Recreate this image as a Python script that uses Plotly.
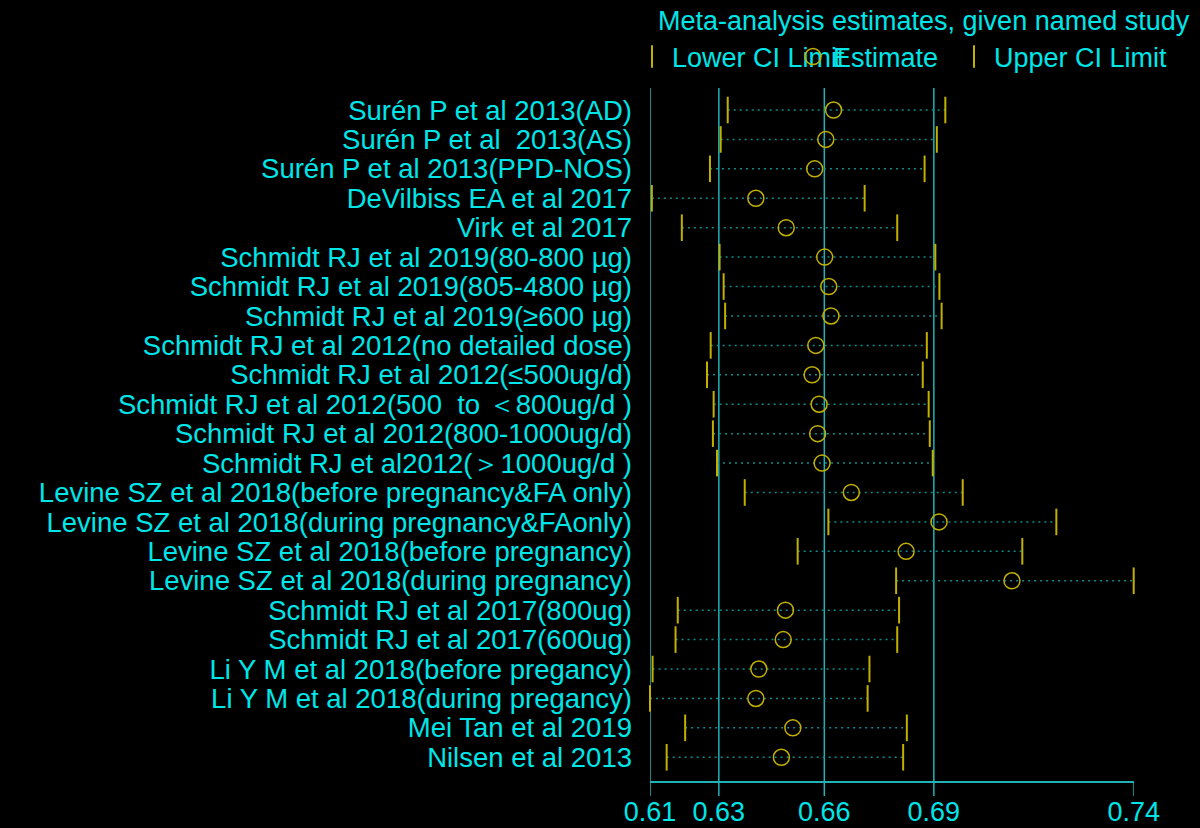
import plotly.graph_objects as go

# Study labels, top to bottom
STUDIES = [
    "Surén P et al 2013(AD)",
    "Surén P et al  2013(AS)",
    "Surén P et al 2013(PPD-NOS)",
    "DeVilbiss EA et al 2017",
    "Virk et al 2017",
    "Schmidt RJ et al 2019(80-800 µg)",
    "Schmidt RJ et al 2019(805-4800 µg)",
    "Schmidt RJ et al 2019(≥600 µg)",
    "Schmidt RJ et al 2012(no detailed dose)",
    "Schmidt RJ et al 2012(≤500ug/d)",
    "Schmidt RJ et al 2012(500  to ＜800ug/d )",
    "Schmidt RJ et al 2012(800-1000ug/d)",
    "Schmidt RJ et al2012(＞1000ug/d )",
    "Levine SZ et al 2018(before pregnancy&FA only)",
    "Levine SZ et al 2018(during pregnancy&FAonly)",
    "Levine SZ et al 2018(before pregnancy)",
    "Levine SZ et al 2018(during pregnancy)",
    "Schmidt RJ et al 2017(800ug)",
    "Schmidt RJ et al 2017(600ug)",
    "Li Y M et al 2018(before pregancy)",
    "Li Y M et al 2018(during pregancy)",
    "Mei Tan et al 2019",
    "Nilsen et al 2013",
]

# Estimates with the named study omitted
LOWER = [0.6310, 0.6291, 0.6262, 0.6105, 0.6186, 0.6288, 0.6299, 0.6303,
         0.6264, 0.6254, 0.6272, 0.6270, 0.6281, 0.6356, 0.6582, 0.6499,
         0.6765, 0.6175, 0.6169, 0.6107, 0.6100, 0.6195, 0.6145]
ESTIMATE = [0.6596, 0.6575, 0.6545, 0.6386, 0.6468, 0.6572, 0.6583, 0.6589,
            0.6548, 0.6538, 0.6557, 0.6553, 0.6565, 0.6644, 0.6881, 0.6792,
            0.7078, 0.6466, 0.6460, 0.6394, 0.6386, 0.6486, 0.6455]
UPPER = [0.6898, 0.6875, 0.6842, 0.6680, 0.6768, 0.6871, 0.6882, 0.6888,
         0.6848, 0.6837, 0.6853, 0.6856, 0.6864, 0.6945, 0.7198, 0.7106,
         0.7407, 0.6773, 0.6768, 0.6693, 0.6688, 0.6794, 0.6784]

# Overall pooled estimate (lower CI, estimate, upper CI)
OVERALL = [0.6286, 0.6571, 0.6867]

TICK_VALS = [0.6100, 0.6286, 0.6571, 0.6867, 0.7407]
TICK_TEXT = ["0.61", "0.63", "0.66", "0.69", "0.74"]

CYAN_TEXT = "#00e5e8"
CYAN_LINE = "#1fb3b8"
DOT_COLOR = "#0e8c8c"
YELLOW = "#c2b000"
FONT = "Liberation Sans, Arial, sans-serif"

fig = go.Figure()

# dotted lines between the CI limits
xs, ys = [], []
for s, lo, hi in zip(STUDIES, LOWER, UPPER):
    xs += [lo, hi, None]
    ys += [s, s, None]
fig.add_trace(go.Scatter(x=xs, y=ys, mode="lines", showlegend=False,
                         line=dict(color=DOT_COLOR, width=1.5, dash="2px,4px"),
                         hoverinfo="skip", cliponaxis=False))

fig.add_trace(go.Scatter(
    x=LOWER, y=STUDIES, mode="markers", name="Lower CI Limit",
    marker=dict(symbol="line-ns", size=19, line=dict(color=YELLOW, width=2)),
    cliponaxis=False))
fig.add_trace(go.Scatter(
    x=ESTIMATE, y=STUDIES, mode="markers", name="Estimate",
    marker=dict(symbol="circle-open", size=16, color=YELLOW, line=dict(width=1.5)),
    cliponaxis=False))
fig.add_trace(go.Scatter(
    x=UPPER, y=STUDIES, mode="markers", name="Upper CI Limit", legend="legend2",
    marker=dict(symbol="line-ns", size=19, line=dict(color=YELLOW, width=2)),
    cliponaxis=False))

# vertical lines: minimum tick and the overall estimate / CI, plus the last tick
bottom = (828 - 796) / 828
for xv in [TICK_VALS[0]] + OVERALL:
    fig.add_shape(type="line", xref="x", yref="paper", x0=xv, x1=xv,
                  y0=bottom, y1=(828 - 88) / 828,
                  line=dict(color=CYAN_LINE, width=1.5), layer="below")
fig.add_shape(type="line", xref="x", yref="paper", x0=TICK_VALS[-1], x1=TICK_VALS[-1],
              y0=bottom, y1=47 / 828, line=dict(color=CYAN_LINE, width=1.5))

legend_common = dict(orientation="h", xanchor="left", y=1 - 57 / 828, yanchor="middle",
                     font=dict(family=FONT, color=CYAN_TEXT, size=27),
                     bgcolor="rgba(0,0,0,0)", itemwidth=30)

n = len(STUDIES)
fig.update_layout(
    width=1200, height=828,
    paper_bgcolor="black", plot_bgcolor="black",
    margin=dict(l=0, r=0, t=0, b=0, autoexpand=False),
    font=dict(family=FONT, color=CYAN_TEXT, size=27),
    title=dict(text="Meta-analysis estimates, given named study",
               x=658 / 1200, xanchor="left", xref="paper",
               y=1 - 21 / 828, yanchor="middle",
               font=dict(family=FONT, color=CYAN_TEXT, size=27)),
    legend=dict(x=632 / 1200, entrywidth=116, entrywidthmode="pixels", **legend_common),
    legend2=dict(x=954 / 1200, **legend_common),
    xaxis=dict(domain=[650 / 1200, 1133.7 / 1200], range=[TICK_VALS[0], TICK_VALS[-1]],
               tickvals=TICK_VALS, ticktext=TICK_TEXT, ticks="",
               ticklabelstandoff=6, showline=True, linecolor=CYAN_LINE,
               linewidth=1.5, showgrid=False, zeroline=False, automargin=False,
               tickfont=dict(family=FONT, color=CYAN_TEXT, size=27)),
    yaxis=dict(domain=[47 / 828, 740 / 828], type="category",
               categoryorder="array", categoryarray=STUDIES,
               tickmode="array", tickvals=STUDIES, ticktext=STUDIES,
               range=[n - 1 + 0.806, -0.748], ticks="", showgrid=False,
               zeroline=False, showline=False, automargin=False,
               ticklabelstandoff=17,
               tickfont=dict(family=FONT, color=CYAN_TEXT, size=27.5)),
)

fig.write_html("out.html", config={"displayModeBar": False},
               post_script="document.body.style.margin='0';"
                           "document.body.style.background='black';")
